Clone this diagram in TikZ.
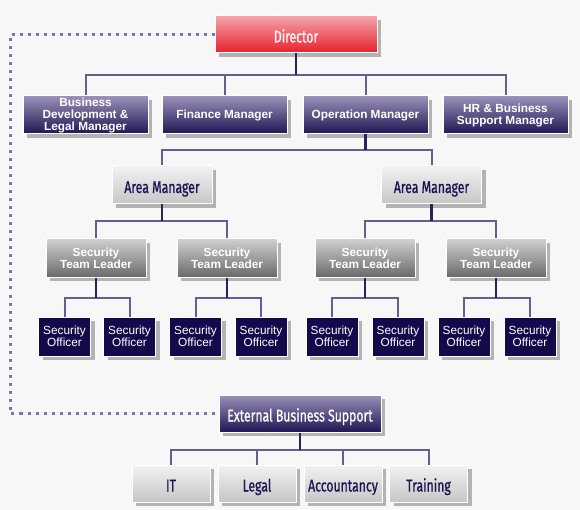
\documentclass[tikz,border=0pt]{standalone}
\usepackage{fontspec}
\setmainfont{Liberation Sans}
\newfontfamily\narrowfont[FakeStretch=0.72, FakeBold=0.8]{Fira Sans}
\usepackage{xcolor}
\usepackage{tikz}
\usetikzlibrary{shadows}
\definecolor{bgcol}{HTML}{F7F7F7}
\definecolor{dirtop}{HTML}{F4A3AA}
\definecolor{dirbot}{HTML}{E6202C}
\definecolor{purtop}{HTML}{9A92BA}
\definecolor{purbot}{HTML}{1F1553}
\definecolor{lighttop}{HTML}{F2F2F2}
\definecolor{lightbot}{HTML}{C6C6C6}
\definecolor{leadtop}{HTML}{D0D0D0}
\definecolor{leadbot}{HTML}{6A6A6A}
\definecolor{officercol}{HTML}{14094A}
\definecolor{navytext}{HTML}{1C1452}
\definecolor{linkcol}{HTML}{665E92}
\definecolor{stubcol}{HTML}{2A225E}
\definecolor{dotcol}{HTML}{7C74A6}
\definecolor{shadowcol}{HTML}{B3B3B3}
\tikzstyle{box} = [rectangle, draw=white, line width=1pt, inner sep=0pt, align=center,
  drop shadow={shadow xshift=4pt, shadow yshift=-4pt, fill=shadowcol, opacity=1}]
\tikzstyle{narrowtext} = [font=\narrowfont\fontsize{17}{17}\selectfont, text height=16pt, text depth=0pt]
\tikzstyle{director} = [box, narrowtext, top color=dirtop, bottom color=dirbot, text=white,
  minimum width=162pt, minimum height=37pt]
\tikzstyle{manager} = [box, top color=purtop, bottom color=purbot, text=white,
  font=\bfseries\fontsize{11.8}{12}\selectfont, minimum width=125pt, minimum height=38pt]
\tikzstyle{support} = [box, narrowtext, top color=purtop, bottom color=purbot, text=white,
  minimum width=162pt, minimum height=37pt]
\tikzstyle{area} = [box, narrowtext, top color=lighttop, bottom color=lightbot, text=navytext,
  minimum width=100pt, minimum height=38pt]
\tikzstyle{dept} = [area, minimum width=78pt, minimum height=37pt]
\tikzstyle{leader} = [box, top color=leadtop, bottom color=leadbot, text=white,
  font=\bfseries\fontsize{11.8}{12}\selectfont, minimum width=100pt, minimum height=38pt]
\tikzstyle{officer} = [box, fill=officercol, text=white,
  font=\fontsize{11.8}{12}\selectfont, minimum width=52pt, minimum height=39pt]
\tikzstyle{link} = [line width=2pt, draw=linkcol]
\tikzstyle{stub} = [line width=2.2pt, draw=stubcol]
\tikzstyle{dotline} = [line width=2.4pt, draw=dotcol, dash pattern=on 3pt off 5pt]

\begin{document}
\begin{tikzpicture}[x=1pt, y=-1pt]
		% Background, fixes the size of the page:
		\fill[bgcol] (0,0) rectangle (580,510);
		\useasboundingbox (0,0) rectangle (580,510);

		% Top of the chart:
		\node[director] (dir) at (296,34.5) {Director};
		\node[manager] (bd) at (85.5,115) {Business\\Development \&\\Legal Manager};
		\node[manager] (fm) at (224.5,115) {Finance Manager};
		\node[manager] (om) at (365.5,115) {Operation Manager};
		\node[manager] (hr) at (505.5,115) {HR \& Business\\Support Manager};

		% Two areas, each with two team leaders and four officers:
		\node[area] (am1) at (162,185) {Area Manager};
		\node[area] (am2) at (431.5,185) {Area Manager};
		\foreach \n/\x in {1/96,2/227,3/365,4/496}{%
			\node[leader] (tl\n) at (\x,258) {Security\\Team Leader};
		}
		\foreach \n/\x in {1/64.5,2/129.5,3/195.5,4/261,5/332,6/398,7/464,8/530}{%
			\node[officer] (so\n) at (\x,336.5) {Security\\Officer};
		}

		% External support:
		\node[support] (ext) at (300,413.5) {External Business Support};
		\node[dept] (it) at (171,483.5) {IT};
		\node[dept] (legal) at (257,483.5) {Legal};
		\node[dept] (acc) at (343,483.5) {Accountancy};
		\node[dept] (train) at (428.5,483.5) {Training};

		% Connectors:
		% Each parent gets a short stub down to the bus, which then runs to every child
		\foreach \c in {bd,fm,om,hr}
			\draw[link] (dir.south) ++(0,22) -| (\c.north);
		\draw[stub] (dir.south) -- ++(0,22);
		\foreach \c in {am1,am2}
			\draw[link] (om.south) ++(0,16) -| (\c.north);
		\draw[stub] (om.south) -- ++(0,16);
		\foreach \p/\a/\b in {am1/tl1/tl2,am2/tl3/tl4}{%
			\draw[link] (\p.south) ++(0,17) -| (\a.north);
			\draw[link] (\p.south) ++(0,17) -| (\b.north);
			\draw[stub] (\p.south) -- ++(0,17);
		}
		\foreach \p/\a/\b in {tl1/so1/so2,tl2/so3/so4,tl3/so5/so6,tl4/so7/so8}{%
			\draw[link] (\p.south) ++(0,20) -| (\a.north);
			\draw[link] (\p.south) ++(0,20) -| (\b.north);
			\draw[stub] (\p.south) -- ++(0,20);
		}
		\foreach \c in {it,legal,acc,train}
			\draw[link] (ext.south) ++(0,17) -| (\c.north);
		\draw[stub] (ext.south) -- ++(0,17);

		% Dotted link from the director to the external support:
		\draw[dotline] (dir.west) -- ++(-204,0) |- (ext.west);
\end{tikzpicture}
\end{document}
